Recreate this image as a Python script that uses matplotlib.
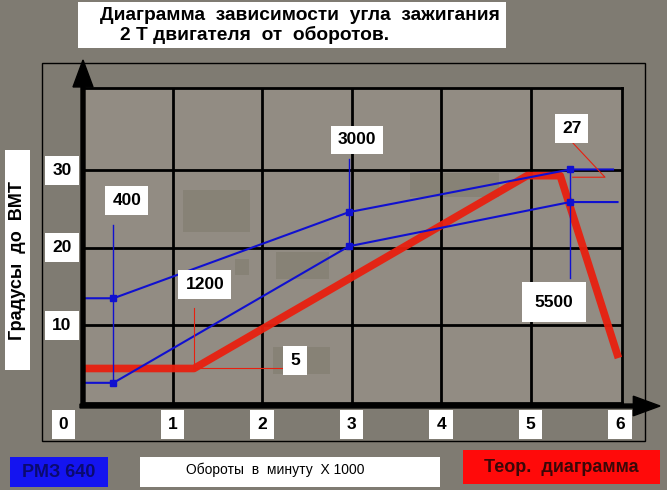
import matplotlib.pyplot as plt
from matplotlib.patches import Rectangle, FancyArrow

plt.rcParams['font.family'] = ['Liberation Sans', 'DejaVu Sans']

# обороты (x1000) и угол опережения (градусы до ВМТ)
rpm_upper = [0, 0.34, 2.97, 5.44, 5.92]
deg_upper = [13.5, 13.5, 24.6, 30.1, 30.1]
rpm_lower = [0, 0.34, 2.97, 5.44, 5.97]
deg_lower = [2.6, 2.6, 20.2, 25.9, 25.9]
rpm_theor = [0, 1.24, 4.96, 5.33, 5.98]
deg_theor = [4.45, 4.45, 29.3, 29.3, 5.8]

x_ticks = [0, 1, 2, 3, 4, 5, 6]
y_ticks = [10, 20, 30]

bg = '#7f7b72'
fig = plt.figure(figsize=(6.67, 4.9), dpi=100, facecolor=bg)
W, H = 667, 490

def box(x0, y0, x1, y1, fc, ec='none'):
    # прямоугольник в пикселях (от верхнего левого угла)
    fig.patches.append(Rectangle((x0 / W, 1 - y1 / H), (x1 - x0) / W, (y1 - y0) / H,
                                 transform=fig.transFigure, fc=fc, ec=ec, zorder=0))

# внешняя рамка
box(42, 63, 645, 441, 'none', 'black')

ax = fig.add_axes([83 / W, 1 - 403 / H, (622 - 83) / W, (403 - 88) / H])
ax.set_facecolor('#928c83')
ax.set_xlim(0, 6.02)
ax.set_ylim(0, 40.6)
for s in ax.spines.values():
    s.set_linewidth(2)
ax.set_xticks([])
ax.set_yticks([])
for x in x_ticks[1:6]:
    ax.axvline(x, color='black', lw=2)
for y in y_ticks:
    ax.axhline(y, color='black', lw=2)

# тёмные заплатки на фоне
for (px, py, pw, ph) in [(1.12, 22, 0.75, 5.4), (2.12, 3.8, 0.64, 3.4), (2.15, 16, 0.6, 3.4),
                         (1.7, 16.5, 0.15, 2.0), (3.65, 26.5, 1.0, 3.2)]:
    ax.add_patch(Rectangle((px, py), pw, ph, fc='#878276', ec='none', zorder=0.5))

# кривые
ax.plot(rpm_theor, deg_theor, color='#e8200f', lw=5.5, solid_capstyle='butt', zorder=3, alpha=0.95)
ax.plot(rpm_upper, deg_upper, color='#1010d0', lw=1.5, zorder=4)
ax.plot(rpm_lower, deg_lower, color='#1010d0', lw=1.5, zorder=4)
ax.plot(rpm_upper[1:4], deg_upper[1:4], 's', color='#1010d0', ms=4, zorder=5)
ax.plot(rpm_lower[1:4], deg_lower[1:4], 's', color='#1010d0', ms=4, zorder=5)

# выноски
ax.plot([0.34, 0.34], [2.6, 22.9], color='#1010d0', lw=1, zorder=4)
ax.plot([2.97, 2.97], [20.2, 31.5], color='#1010d0', lw=1, zorder=4)
ax.plot([5.44, 5.44], [30.1, 16.1], color='#1010d0', lw=1, zorder=4)
ax.plot([1.24, 1.24], [4.45, 12.3], color='#e8200f', lw=0.8, zorder=4)
ax.plot([1.24, 2.31], [4.45, 4.45], color='#e8200f', lw=0.8, zorder=4)
ax.plot([5.44, 5.83, 5.47], [33.9, 29.1, 29.1], color='#e8200f', lw=0.8, zorder=4)

lab = dict(fontsize=12.5, fontweight='bold', ha='center', va='center', zorder=6, clip_on=False,
           bbox=dict(fc='white', ec='none', pad=5))
ax.text(0.49, 26.1, '400', **lab)
ax.text(1.36, 15.3, '1200', **lab)
ax.text(2.37, 5.5, '5', **lab)
ax.text(3.06, 33.9, '3000', **lab)
ax.text(5.46, 35.4, '27', **lab)
ax.text(5.26, 13.0, '5500', **dict(lab, bbox=dict(fc='white', ec='none', pad=9)))

for x in x_ticks:
    ax.text(x - 0.22 if x == 0 else x, -2.8, str(x), **lab)
for y in y_ticks:
    ax.text(-0.235, y, str(y), **lab)

# оси со стрелками
fig.patches.append(FancyArrow(83 / W, 1 - 405 / H, 0, (405 - 60) / H, width=0.006, head_width=0.03,
                              head_length=0.055, length_includes_head=True, color='black',
                              transform=fig.transFigure, zorder=7))
fig.patches.append(FancyArrow(80 / W, 1 - 406 / H, (660 - 80) / W, 0, width=0.008, head_width=0.04,
                              head_length=0.04, length_includes_head=True, color='black',
                              transform=fig.transFigure, zorder=7))

# заголовок
box(78, 2, 506, 48, 'white')
fig.text(100 / W, 1 - 15 / H, 'Диаграмма  зависимости  угла  зажигания', fontsize=13.8,
         fontweight='bold', va='center', ha='left')
fig.text(120 / W, 1 - 35 / H, '2 Т двигателя  от  оборотов.', fontsize=13.8,
         fontweight='bold', va='center', ha='left')

# подпись оси Y
box(5, 150, 30, 370, 'white')
fig.text(17.5 / W, 1 - 260 / H, 'Градусы  до  ВМТ', rotation=90, fontsize=13, fontweight='bold',
         ha='center', va='center')

# нижние плашки
box(10, 457, 108, 487, '#1414f0')
fig.text(59 / W, 1 - 472 / H, 'РМЗ 640', fontsize=13, fontweight='bold', color='#0a0a70',
         ha='center', va='center')
box(140, 457, 440, 487, 'white')
fig.text(275 / W, 1 - 470 / H, 'Обороты  в  минуту  X 1000', fontsize=10, ha='center', va='center')
box(463, 450, 660, 484, '#ff0a0a')
fig.text(561 / W, 1 - 467 / H, 'Теор.  диаграмма', fontsize=13, fontweight='bold', color='#3a0808',
         ha='center', va='center')

fig.savefig('out.png', dpi=100, facecolor=bg)
